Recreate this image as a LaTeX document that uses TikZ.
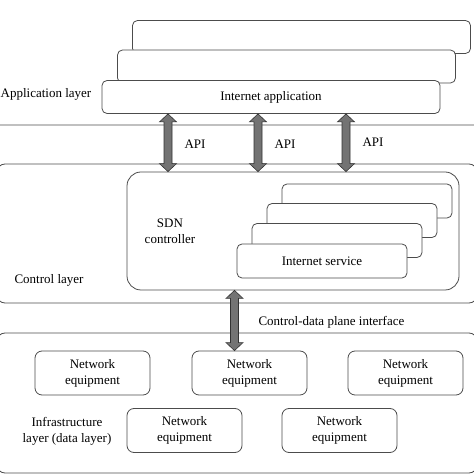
\documentclass[tikz,border=0pt]{standalone}
\usepackage{fontspec}
\setmainfont{Liberation Serif}
\usetikzlibrary{calc}
\usetikzlibrary{positioning}

\tikzset{
  every node/.style={font=\fontsize{13}{16}\selectfont},
  layer/.style={draw=black!70, line width=0.8pt, rounded corners=8pt},
  box/.style={draw=black!70, fill=white, line width=0.8pt, rounded corners=5pt, inner sep=0pt},
  appbox/.style={box, minimum width=338pt, minimum height=33pt},
  srvbox/.style={box, minimum width=170pt, minimum height=34pt},
  netbox/.style={box, rounded corners=7pt, minimum width=115pt, minimum height=44pt, align=center},
  fatarrow/.style={draw=black!80, fill=black!55, line width=0.6pt,
    to path={let \p1=(\tikztostart), \p2=(\tikztotarget) in
      (\x1,\y1) -- (\x1+8.5pt,\y1-8pt) -- (\x1+4pt,\y1-8pt) -- (\x2+4pt,\y2+8pt)
      -- (\x2+8.5pt,\y2+8pt) -- (\x2,\y2) -- (\x2-8.5pt,\y2+8pt) -- (\x2-4pt,\y2+8pt)
      -- (\x1-4pt,\y1-8pt) -- (\x1-8.5pt,\y1-8pt) -- cycle}}
}

\begin{document}
\begin{tikzpicture}[x=1pt,y=1pt]
  \useasboundingbox (0,0) rectangle (474,474);

  % layers
  \draw[layer] (-12,349) rectangle (486,500);
  \draw[layer] (-3,171) rectangle (477,310);
  \draw[layer] (-3,1) rectangle (477,141);

  \node[anchor=west, inner sep=0pt] (applbl) at (0.5,380) {Application layer};
  \node[anchor=west] (ctllbl) at (11,194) {Control layer};
  \node[align=center] (inflbl) at (67,43) {Infrastructure\\layer (data layer)};

  % applications
  \node[appbox] (app1) at (301.5,437) {};
  \node[appbox] (app2) at (286.5,407.5) {};
  \node[appbox] (app3) at (271,377) {Internet application};

  % controller
  \node[box, rounded corners=14pt, minimum width=332pt, minimum height=118pt] (sdn) at (293,243) {};
  \node[align=center] (sdnlbl) at (170,243) {SDN\\controller};

  \foreach \i/\px/\py in {4/367/273, 3/352/253.5, 2/337/233.5}
    \node[srvbox] (srv\i) at (\px,\py) {};
  \node[srvbox] (srv1) at (322,213) {Internet service};

  % equipment
  \foreach \i/\px/\py in {1/92.5/101, 2/249.5/101, 3/405.5/101, 4/184.5/43.5, 5/339.5/43.5}
    \node[netbox] (ne\i) at (\px,\py) {Network\\equipment};

  % interfaces
  \coordinate (a1) at (168,0);
  \coordinate (a2) at (258,0);
  \coordinate (a3) at (346,0);
  \path[fatarrow] (app3.south -| a1) to (sdn.north -| a1);
  \path[fatarrow] (app3.south -| a2) to (sdn.north -| a2);
  \path[fatarrow] (app3.south -| a3) to (sdn.north -| a3);
  \node (api1) at (195,330) {API};
  \node (api2) at (285,330) {API};
  \node (api3) at (373,332) {API};

  \coordinate (cd) at (234.5,0);
  \path[fatarrow] (sdn.south -| cd) to (ne2.north -| cd);
  \node[anchor=west] (cdlbl) at (255,152) {Control-data plane interface};

\end{tikzpicture}
\end{document}
